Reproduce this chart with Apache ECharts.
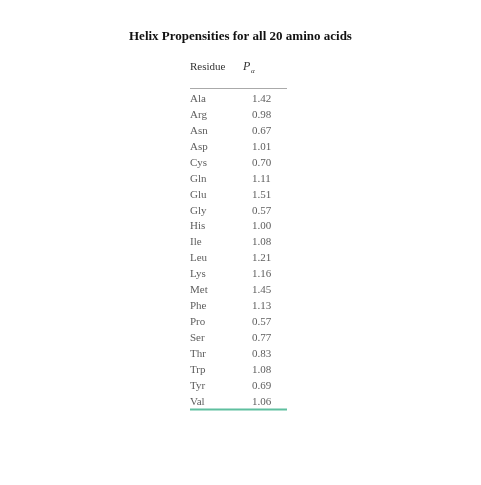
<!DOCTYPE html><html><head><meta charset="utf-8"><script src="https://cdn.jsdelivr.net/npm/echarts@6/dist/echarts.min.js"></script></head><body style="margin:0"><div id="c" style="width:481px;height:485px"></div><script>
const residues=["Ala","Arg","Asn","Asp","Cys","Gln","Glu","Gly","His","Ile","Leu","Lys","Met","Phe","Pro","Ser","Thr","Trp","Tyr","Val"];
const values=["1.42","0.98","0.67","1.01","0.70","1.11","1.51","0.57","1.00","1.08","1.21","1.16","1.45","1.13","0.57","0.77","0.83","1.08","0.69","1.06"];
const ch=echarts.init(document.getElementById('c'));
const F='Liberation Serif';
const lab={show:true,position:'inside',align:'left',verticalAlign:'middle',fontFamily:F,fontSize:11,color:'#333',formatter:p=>p.data[2]};
ch.setOption({
 animation:false,
 title:{text:'Helix Propensities for all 20 amino acids',left:129,top:30,padding:0,textStyle:{fontFamily:F,fontWeight:'bold',fontSize:13,color:'#111'}},
 grid:{left:190,width:97,top:91,height:319},
 xAxis:{type:'value',min:0,max:97,show:false},
 yAxis:{type:'category',inverse:true,data:residues,show:false},
 graphic:[
  {type:'text',left:190,top:62,style:{text:'Residue',font:'11px "Liberation Serif"',fill:'#333'}},
  {type:'text',left:243,top:61,style:{text:'P',font:'italic 12px "Liberation Serif"',fill:'#333'}},
  {type:'text',left:251,top:68,style:{text:'α',font:'italic 7px "Liberation Serif"',fill:'#333'}},
  {type:'line',shape:{x1:190,y1:88.5,x2:287,y2:88.5},style:{stroke:'#aaa',lineWidth:1}},
  {type:'line',shape:{x1:190,y1:409.5,x2:287,y2:409.5},style:{stroke:'#5fbf9f',lineWidth:2}}
 ],
 series:[
  {type:'scatter',symbolSize:0,data:residues.map((r,i)=>[0,r,r]),label:lab},
  {type:'scatter',symbolSize:0,data:residues.map((r,i)=>[62,r,values[i]]),label:lab}
 ]
});
</script></body></html>
